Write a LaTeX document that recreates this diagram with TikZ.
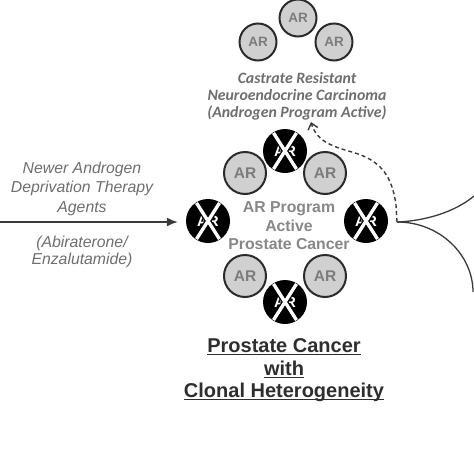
\documentclass[tikz,border=0pt]{standalone}
\usepackage{fontspec}
\setmainfont{Liberation Sans}
\newfontfamily\calibfont{Carlito}
\usetikzlibrary{arrows.meta}
\definecolor{txtgray}{HTML}{6E6E6E}
\definecolor{midgray}{HTML}{878787}
\definecolor{argray}{HTML}{7C7C7C}
\definecolor{cfill}{HTML}{D0D0D0}
\definecolor{cline}{HTML}{2B2B2B}
\definecolor{darktxt}{HTML}{2E2E2E}
\definecolor{curvegray}{HTML}{3A3A3A}
\newcommand\xcross[1]{%
  \begin{scope}
    \clip (#1.center) circle (21.5pt);
    \draw[black,line width=6pt] ([shift={(-14,-22)}]#1.center) -- ([shift={(14,22)}]#1.center);
    \draw[black,line width=6pt] ([shift={(14,-22)}]#1.center) -- ([shift={(-14,22)}]#1.center);
    \draw[white,line width=3.4pt] ([shift={(-14,-22)}]#1.center) -- ([shift={(14,22)}]#1.center);
    \draw[white,line width=3.4pt] ([shift={(14,-22)}]#1.center) -- ([shift={(-14,22)}]#1.center);
  \end{scope}}
\begin{document}
\begin{tikzpicture}[x=1pt,y=-1pt,
  arcirc/.style={circle,draw=cline,line width=2pt,fill=cfill,minimum size=42pt,inner sep=0pt,
    font=\fontsize{15.5}{16}\selectfont\bfseries,text=argray},
  arsmall/.style={arcirc,minimum size=37pt,font=\fontsize{13.5}{14}\selectfont\bfseries},
  xcirc/.style={circle,fill=black,minimum size=44pt,inner sep=0pt,
    font=\fontsize{15}{16}\selectfont\bfseries,text=white},
  toptxt/.style={anchor=base,inner sep=0pt,text=txtgray,font=\calibfont\fontsize{15.8}{17}\selectfont\bfseries\itshape},
  lefttxt/.style={anchor=base,inner sep=0pt,text=txtgray,font=\fontsize{15.8}{17}\selectfont\itshape},
  midtxt/.style={anchor=base,inner sep=0pt,text=midgray,font=\fontsize{15.8}{17}\selectfont\bfseries},
  bottxt/.style={anchor=base,inner sep=0pt,text=darktxt,font=\fontsize{20}{22}\selectfont\bfseries},
  uline/.style={draw=darktxt,line width=1.8pt},
  curve/.style={draw=curvegray,line width=1.3pt},
]
\useasboundingbox (0,0) rectangle (474,474);

% top group
\node[arsmall] (t1) at (258,42) {AR};
\node[arsmall] (t2) at (298,18) {AR};
\node[arsmall] (t3) at (334,42) {AR};
\node[toptxt] (tt1) at (297,83) {Castrate Resistant};
\node[toptxt] (tt2) at (297,100) {Neuroendocrine Carcinoma};
\node[toptxt] (tt3) at (297,117) {(Androgen Program Active)};

% middle group
\node[xcirc] (xt) at (285,151) {AR};
\node[arcirc] (g1) at (245,173) {AR};
\node[arcirc] (g2) at (325,173) {AR};
\node[xcirc] (xl) at (208,221) {AR};
\node[xcirc] (xr) at (366,221) {AR};
\node[arcirc] (g3) at (245,276) {AR};
\node[arcirc] (g4) at (325,276) {AR};
\node[xcirc] (xb) at (285,302) {AR};
\xcross{xt}\xcross{xl}\xcross{xr}\xcross{xb}

\node[midtxt] (m1) at (289,212) {AR Program};
\node[midtxt] (m2) at (289,231) {Active};
\node[midtxt] (m3) at (289,249) {Prostate Cancer};

% bottom title
\node[bottxt] (b1) at (284,352) {Prostate Cancer};
\node[bottxt] (b2) at (284,375) {with};
\node[bottxt] (b3) at (284,397) {Clonal Heterogeneity};
\draw[uline] ([yshift=-2.5pt]b1.base west) -- ([yshift=-2.5pt]b1.base east);
\draw[uline] ([yshift=-2.5pt]b2.base west) -- ([yshift=-2.5pt]b2.base east);
\draw[uline] ([yshift=-2.5pt]b3.base west) -- ([yshift=-2.5pt]b3.base east);

% left text and arrow
\node[lefttxt] (l1) at (82,173.5) {Newer Androgen};
\node[lefttxt] (l2) at (82,192.5) {Deprivation Therapy};
\node[lefttxt] (l3) at (82,212) {Agents};
\node[lefttxt] (l4) at (82,247.5) {(Abiraterone/};
\node[lefttxt] (l5) at (82,264.5) {Enzalutamide)};
\coordinate (ls) at (0,222);
\draw[draw=curvegray,line width=1.5pt,-{Latex[length=11pt,width=9pt]},shorten >=8pt] (ls) -- (xl.west |- ls);

% right side
\coordinate (J) at (397,222);
\coordinate (ue) at (474,196);
\coordinate (le) at (473,292);
\draw[curve] (J) .. controls (425,221) and (455,212) .. (ue);
\draw[curve] (J) .. controls (440,222) and (473,255) .. (le);
\draw[curvegray,line width=1.4pt,dash pattern=on 4pt off 3pt,-{Straight Barb[length=6pt,width=10pt]}]
  (J) -- (396,205) .. controls (392,175) and (380,160) .. (352,152)
  .. controls (330,146) and (316,140) .. (311,122);
\end{tikzpicture}
\end{document}
